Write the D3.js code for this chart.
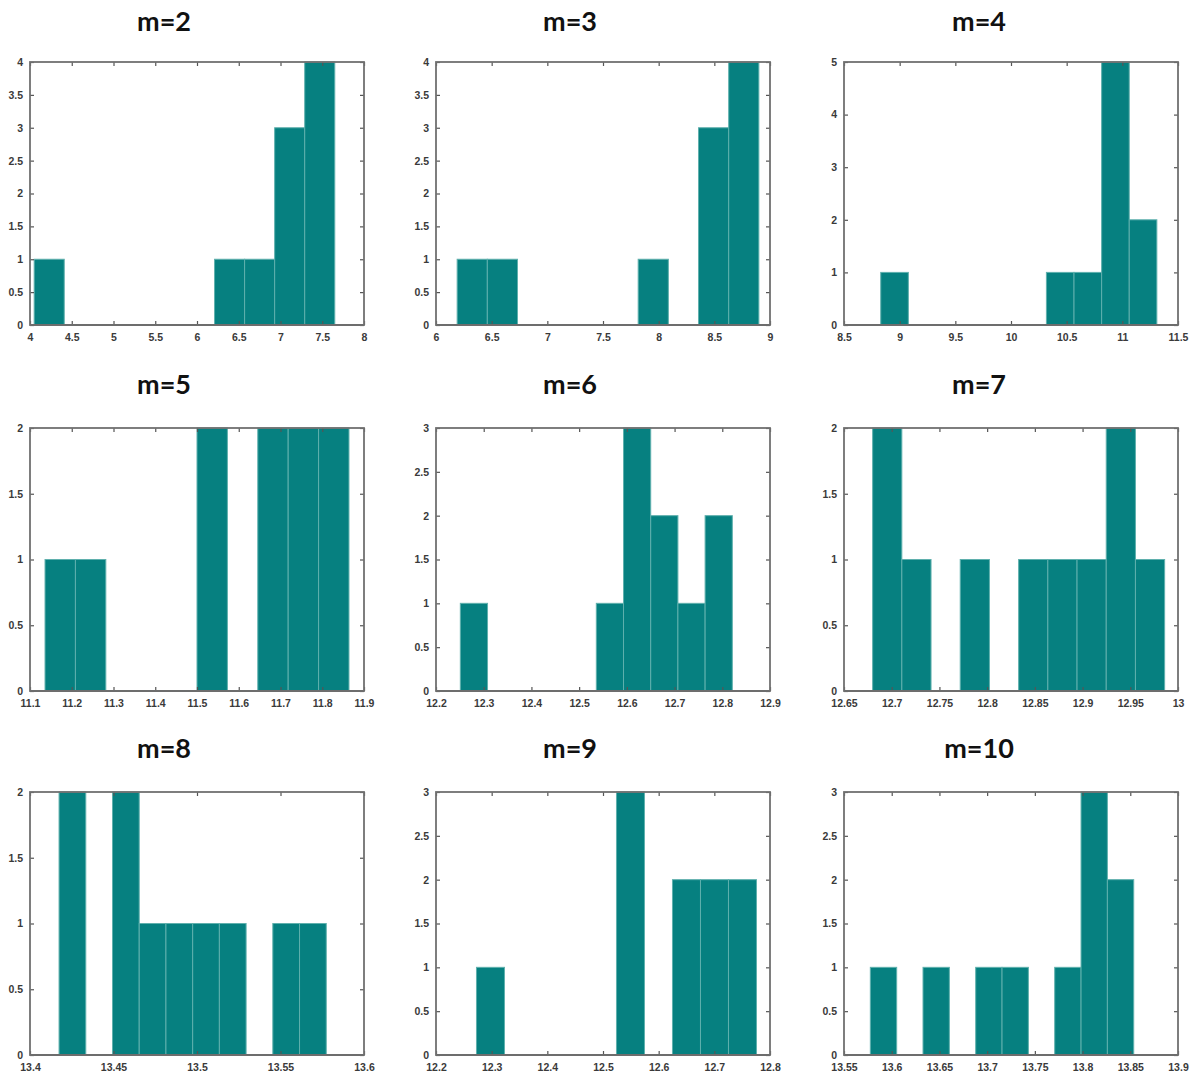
<!DOCTYPE html>
<html>
<head>
<meta charset="utf-8">
<script src="https://cdn.jsdelivr.net/npm/d3@7"></script>
<style>
  html, body { margin: 0; padding: 0; background: #fff; }
  svg { display: block; }
</style>
</head>
<body>
<svg id="chart" width="1200" height="1082"></svg>
<script>
// ---- data ----
const titles = ["m=2", "m=3", "m=4", "m=5", "m=6", "m=7", "m=8", "m=9", "m=10"];
const binStarts = [4.05, 6.19, 8.83, 11.136, 12.251, 12.680, 13.4174, 12.2727, 13.5776];
const binWidths = [0.36, 0.271, 0.248, 0.0728, 0.057, 0.0306, 0.016, 0.0503, 0.0276];
const countsM2  = [1, 0, 0, 0, 0, 0, 1, 1, 3, 4];
const countsM3  = [1, 1, 0, 0, 0, 0, 1, 0, 3, 4];
const countsM4  = [1, 0, 0, 0, 0, 0, 1, 1, 5, 2];
const countsM5  = [1, 1, 0, 0, 0, 2, 0, 2, 2, 2];
const countsM6  = [1, 0, 0, 0, 0, 1, 3, 2, 1, 2];
const countsM7  = [2, 1, 0, 1, 0, 1, 1, 1, 2, 1];
const countsM8  = [2, 0, 2, 1, 1, 1, 1, 0, 1, 1];
const countsM9  = [1, 0, 0, 0, 0, 3, 0, 2, 2, 2];
const countsM10 = [1, 0, 1, 0, 1, 1, 0, 1, 3, 2];
const counts = [countsM2, countsM3, countsM4, countsM5, countsM6, countsM7, countsM8, countsM9, countsM10];
const xMins  = [4, 6, 8.5, 11.1, 12.2, 12.65, 13.4, 12.2, 13.55];
const xMaxs  = [8, 9, 11.5, 11.9, 12.9, 13, 13.6, 12.8, 13.9];
const xSteps = [0.5, 0.5, 0.5, 0.1, 0.1, 0.05, 0.05, 0.1, 0.05];
const yMaxs  = [4, 4, 5, 2, 3, 2, 2, 3, 3];
const ySteps = [0.5, 0.5, 1, 0.5, 0.5, 0.5, 0.5, 0.5, 0.5];

// ---- layout ----
const colLeft = [30, 436, 844];
const rowTop = [62, 428, 792];
const panelW = 334;
const panelH = 263;
const titleX = [164, 570, 979];
const titleY = [31, 394, 758];

const barFill = "#068080";
const barEdge = "#5fb0ad";
const frameColor = "#707070";
const fmt = v => String(+v.toFixed(4));

const svg = d3.select("#chart");

titles.forEach((t, i) => {
  const col = i % 3, row = Math.floor(i / 3);
  const x0 = colLeft[col], y0 = rowTop[row];
  const g = svg.append("g").attr("transform", `translate(${x0},${y0})`);

  const x = d3.scaleLinear().domain([xMins[i], xMaxs[i]]).range([0, panelW]);
  const y = d3.scaleLinear().domain([0, yMaxs[i]]).range([panelH, 0]);

  const nx = Math.round((xMaxs[i] - xMins[i]) / xSteps[i]);
  const xTicks = d3.range(nx + 1).map(k => +(xMins[i] + k * xSteps[i]).toFixed(6));
  const ny = Math.round(yMaxs[i] / ySteps[i]);
  const yTicks = d3.range(ny + 1).map(k => +(k * ySteps[i]).toFixed(6));

  // bars
  const bins = counts[i].map((c, k) => ({
    x0: binStarts[i] + k * binWidths[i],
    x1: binStarts[i] + (k + 1) * binWidths[i],
    c
  })).filter(d => d.c > 0);

  g.selectAll("rect.bar").data(bins).join("rect")
    .attr("class", "bar")
    .attr("x", d => x(d.x0))
    .attr("y", d => y(d.c))
    .attr("width", d => x(d.x1) - x(d.x0))
    .attr("height", d => y(0) - y(d.c))
    .attr("fill", barFill)
    .attr("stroke", barEdge)
    .attr("stroke-width", 1);

  // baseline
  g.append("line")
    .attr("x1", x(xMins[i])).attr("x2", x(xMaxs[i]))
    .attr("y1", y(0)).attr("y2", y(0))
    .attr("stroke", "#555").attr("stroke-width", 2);

  // axes (ticks inward)
  const axStyle = sel => {
    sel.select(".domain").remove();
    sel.selectAll(".tick line").attr("stroke", "#555").attr("stroke-width", 1.2);
    sel.selectAll(".tick text").attr("fill", "#3a3a3a")
      .style("font-family", "'Liberation Sans Narrow', 'Liberation Sans', Arial, sans-serif")
      .style("font-weight", "bold")
      .style("font-size", "10.5px");
  };
  g.append("g").attr("transform", `translate(0,${panelH})`)
    .call(d3.axisBottom(x).tickValues(xTicks).tickFormat(fmt).tickSizeInner(-4).tickSizeOuter(0).tickPadding(9))
    .call(axStyle);
  g.append("g")
    .call(d3.axisTop(x).tickValues(xTicks).tickFormat("").tickSizeInner(-4).tickSizeOuter(0))
    .call(axStyle);
  g.append("g")
    .call(d3.axisLeft(y).tickValues(yTicks).tickFormat(fmt).tickSizeInner(-4).tickSizeOuter(0).tickPadding(7))
    .call(axStyle);
  g.append("g").attr("transform", `translate(${panelW},0)`)
    .call(d3.axisRight(y).tickValues(yTicks).tickFormat("").tickSizeInner(-4).tickSizeOuter(0))
    .call(axStyle);

  // frame
  g.append("rect")
    .attr("x", 0).attr("y", 0).attr("width", panelW).attr("height", panelH)
    .attr("fill", "none").attr("stroke", frameColor).attr("stroke-width", 1.8);

  // title
  svg.append("text")
    .attr("x", titleX[col]).attr("y", titleY[row])
    .attr("text-anchor", "middle")
    .style("font-family", "Lato, 'Open Sans', sans-serif")
    .style("font-weight", "bold")
    .style("font-size", "27px")
    .attr("fill", "#111")
    .text(t);
});
</script>
</body>
</html>
